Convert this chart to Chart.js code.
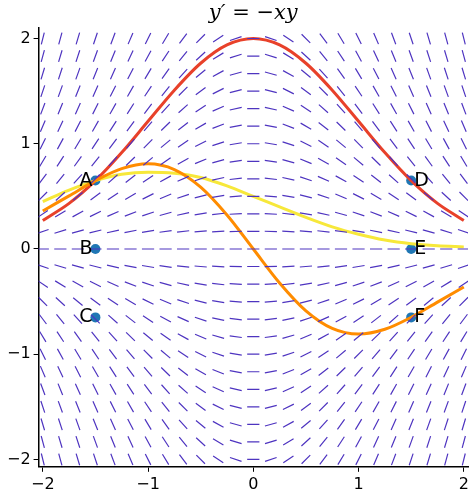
<!DOCTYPE html><html><head><script src="https://cdn.jsdelivr.net/npm/chart.js@4"></script>
<style>body{margin:0;background:#fff}#w{width:474px;height:501px}</style></head><body><div id="w"><canvas id="c"></canvas></div>
<script>
const xs=[-2,-1.75,-1.5,-1.25,-1,-0.75,-0.5,-0.25,0,0.25,0.5,0.75,1,1.25,1.5,1.75,2];
const redY=[0.271,0.433,0.649,0.916,1.213,1.509,1.765,1.939,2,1.939,1.765,1.509,1.213,0.916,0.649,0.433,0.271];
const orangeY=[0.361,0.505,0.649,0.763,0.809,0.755,0.588,0.323,0,-0.323,-0.588,-0.755,-0.809,-0.763,-0.649,-0.505,-0.361];
const yellowY=[0.45,0.56,0.65,0.71,0.73,0.72,0.68,0.6,0.5,0.4,0.3,0.21,0.14,0.085,0.05,0.03,0.02];
const ptX=[-1.5,-1.5,-1.5,1.5,1.5,1.5];
const ptY=[0.65,0,-0.65,0.65,0,-0.65];
const ptLab=['A','B','C','D','E','F'];
const ticks=[-2,-1,0,1,2];
// slope field of y' = -x y
const field=[];const h=0.058;
for(let i=0;i<=24;i++)for(let j=0;j<=24;j++){const x=-2+i/6,y=-2+j/6,m=-x*y,d=h/Math.sqrt(1+m*m);
field.push({x:x-d,y:y-m*d},{x:x+d,y:y+m*d},{x:NaN,y:NaN});}
const mk=(ys,c)=>({data:xs.map((x,i)=>({x,y:ys[i]})),borderColor:c,borderWidth:3,pointRadius:0,cubicInterpolationMode:'monotone',fill:false});
const labels={id:'lab',afterDatasetsDraw(ch){const c=ch.ctx,sx=ch.scales.x,sy=ch.scales.y;c.save();c.font='19px "DejaVu Sans"';c.fillStyle='#000';c.textBaseline='middle';
ptX.forEach((x,i)=>{const px=sx.getPixelForValue(x),py=sy.getPixelForValue(ptY[i]);if(x<0){c.textAlign='right';c.fillText(ptLab[i],px-3,py);}else{c.textAlign='left';c.fillText(ptLab[i],px+3,py);}});
c.font='italic 21px "DejaVu Serif"';c.textAlign='center';c.fillText('y′ = −xy',sx.getPixelForValue(0),14);c.restore();}};
const tk={color:'#000',font:{size:16,family:'DejaVu Sans'},callback:v=>v<0?'−'+(-v):v};
const gr={drawOnChartArea:false,drawTicks:true,tickLength:5,color:'#000'};
new Chart(document.getElementById('c'),{type:'line',data:{datasets:[
{data:field,borderColor:'#4e34c0',borderWidth:1.2,pointRadius:0,spanGaps:false,tension:0},
mk(orangeY,'#ff8c00'),mk(yellowY,'#f7e83a'),mk(redY,'#e8412a'),
{data:ptX.map((x,i)=>({x,y:ptY[i]})),showLine:false,pointRadius:5,pointBackgroundColor:'#1f77b4',pointBorderWidth:0}
]},options:{animation:false,responsive:true,maintainAspectRatio:false,layout:{padding:{top:28,right:6,left:4,bottom:4}},plugins:{legend:{display:false},tooltip:{enabled:false}},
scales:{x:{type:'linear',min:-2.04,max:2.04,afterBuildTicks:a=>{a.ticks=ticks.map(v=>({value:v}))},grid:gr,border:{color:'#000',width:1.5},ticks:tk},
y:{type:'linear',min:-2.07,max:2.1,afterBuildTicks:a=>{a.ticks=ticks.map(v=>({value:v}))},grid:gr,border:{color:'#000',width:1.5},ticks:tk}}},plugins:[labels]});
</script></body></html>
